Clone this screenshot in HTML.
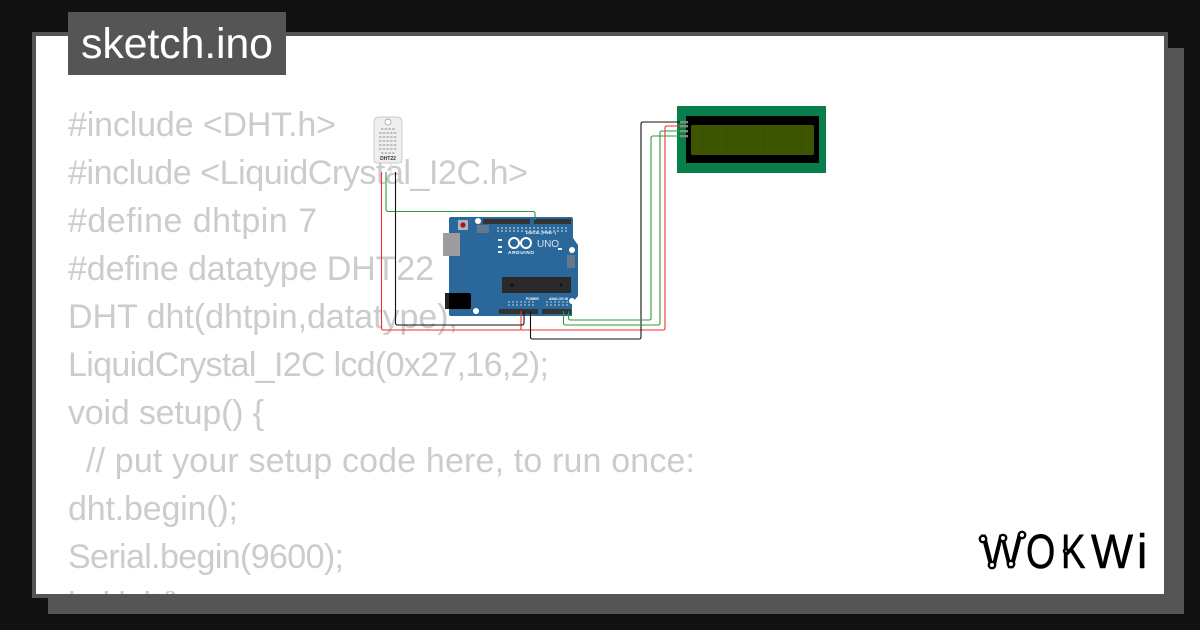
<!DOCTYPE html>
<html><head><meta charset="utf-8"><style>
html,body{margin:0;padding:0;background:#111;width:1200px;height:630px;overflow:hidden}
svg{display:block}
.c{font-family:"Liberation Sans",sans-serif;font-size:34px;fill:#ccc}
.w{fill:none;stroke-width:1.1;stroke-linejoin:round}
.l{font-family:"Liberation Sans",sans-serif;font-size:46px;fill:#000;stroke:#000;stroke-width:.5;stroke-linejoin:round}
</style></head><body>
<svg width="1200" height="630" viewBox="0 0 1200 630" xmlns="http://www.w3.org/2000/svg">
<defs><clipPath id="pg"><rect x="36" y="36" width="1128" height="558"/></clipPath></defs>
<rect width="1200" height="630" fill="#111"/>
<rect x="48" y="48" width="1136" height="566" fill="#555"/>
<rect x="32" y="32" width="1136" height="566" fill="#555"/>
<rect x="36" y="36" width="1128" height="558" fill="#fff"/>
<g class="c" clip-path="url(#pg)">
<text x="68" y="136" textLength="268">#include &lt;DHT.h&gt;</text>
<text x="68" y="184" textLength="460">#include &lt;LiquidCrystal_I2C.h&gt;</text>
<text x="68" y="232" textLength="249">#define dhtpin 7</text>
<text x="68" y="280" textLength="366">#define datatype DHT22</text>
<text x="68" y="328" textLength="390">DHT dht(dhtpin,datatype);</text>
<text x="68" y="376" textLength="481">LiquidCrystal_I2C lcd(0x27,16,2);</text>
<text x="68" y="424" textLength="196">void setup() {</text>
<text x="86" y="472" textLength="609">// put your setup code here, to run once:</text>
<text x="68" y="520" textLength="170">dht.begin();</text>
<text x="68" y="568" textLength="276">Serial.begin(9600);</text>
<text x="68" y="616" textLength="122">lcd.init();</text>
</g>
<rect x="68" y="12" width="218" height="63" fill="#555"/>
<text x="81" y="58" font-family="'Liberation Sans',sans-serif" font-size="43" fill="#fff" textLength="192">sketch.ino</text>

<!-- DHT22 -->
<path d="M374 122q0-5 5-5h18q5 0 5 5v38q0 3-3 3h-22q-3 0-3-3z" fill="#eee" stroke="#bbb" stroke-width=".7"/>
<circle cx="388" cy="122" r="3" fill="#fff" stroke="#999" stroke-width=".7"/>
<g fill="none" stroke="#b8b8b8" stroke-width="1.7" stroke-dasharray="2.5 1.2">
<path d="M381 129h14M379 133h18M379 137h18M379 141h18M379 145h18M379 149h18M381 153h14"/>
</g>
<text x="388" y="160" font-family="'Liberation Sans',sans-serif" font-size="5" font-weight="bold" text-anchor="middle" fill="#333">DHT22</text>
<g stroke="#ddd" stroke-width="1.2"><path d="M391 163v10"/></g>

<!-- Arduino board -->
<path d="M451 217H571q2 0 2 2V238L578 245V296L572 303V316H451q-2 0-2-2V219q0-2 2-2z" fill="#2a689b"/>
<rect x="443" y="233" width="17" height="23" fill="#9d9d9d"/>
<rect x="445" y="293" width="26" height="16" rx="2" fill="#000"/>
<rect x="445" y="293" width="4" height="16" fill="#222"/>
<rect x="458" y="220" width="10" height="10" fill="#a9b4bd"/>
<circle cx="463" cy="225" r="2.6" fill="#a8141c"/>
<g fill="#fff"><circle cx="478" cy="221" r="3"/><circle cx="572" cy="250" r="3"/><circle cx="572" cy="301" r="3"/><circle cx="476" cy="311" r="3"/></g>
<rect x="483" y="219" width="47" height="5" fill="#333"/>
<rect x="534" y="219" width="37" height="5" fill="#333"/>
<rect x="499" y="309" width="39" height="5" fill="#333"/>
<rect x="542" y="309" width="29" height="5" fill="#333"/>
<rect x="502" y="277" width="69" height="16" fill="#2a2a2a"/>
<circle cx="512" cy="285" r="1.5" fill="#111"/><circle cx="561" cy="285" r="1.5" fill="#111"/>
<g fill="#66798a"><rect x="477" y="225" width="12" height="8"/><rect x="567" y="255" width="8" height="13"/></g>
<path d="M497 228h70M497 231h70" stroke="#9fbbd1" stroke-width="1.4" stroke-dasharray="2 2"/>
<path d="M508 305h28M546 305h24M508 302h28M546 302h24" stroke="#9fbbd1" stroke-width="1.2" stroke-dasharray="2 2"/>
<circle cx="514" cy="243" r="5" fill="none" stroke="#fff" stroke-width="2"/>
<circle cx="526" cy="243" r="5" fill="none" stroke="#fff" stroke-width="2"/>
<text x="537" y="247" font-family="'Liberation Sans',sans-serif" font-size="10" fill="#d5e2ec" textLength="22">UNO</text>
<text x="508" y="254" font-family="'Liberation Sans',sans-serif" font-size="4.8" font-weight="bold" fill="#fff" textLength="26">ARDUINO</text>
<text x="526" y="234" font-family="'Liberation Sans',sans-serif" font-size="3.6" font-weight="bold" fill="#fff" textLength="30">DIGITAL (PWM ~)</text>
<text x="526" y="300" font-family="'Liberation Sans',sans-serif" font-size="3.4" font-weight="bold" fill="#fff">POWER</text>
<text x="549" y="300" font-family="'Liberation Sans',sans-serif" font-size="3.4" font-weight="bold" fill="#fff">ANALOG IN</text>
<g fill="#eef"><rect x="498" y="239" width="4" height="2"/><rect x="498" y="246" width="4" height="2"/><rect x="498" y="251" width="4" height="2"/><rect x="558" y="248" width="4" height="2"/></g>

<!-- LCD -->
<rect x="677" y="106" width="149" height="67" fill="#087f4a"/>
<rect x="686" y="116" width="133" height="47" fill="#000"/>
<rect x="691" y="125" width="123" height="30" rx="1.5" fill="#3d5500"/>
<path d="M703 125v30M715 125v30M727 125v30M739 125v30M752 125v30M764 125v30M776 125v30M789 125v30M801 125v30M691 140h123" stroke="#385100" stroke-width=".8"/>
<g fill="#7d8f7a"><rect x="680" y="121" width="8" height="2.400"/><rect x="680" y="125" width="8" height="2.400"/><rect x="680" y="130" width="8" height="2.400"/><rect x="680" y="135" width="8" height="2.400"/></g>

<!-- Wires -->
<path class="w" stroke="#2e9b3a" d="M386 172V209q0 2.500 2.500 2.500H533q2 0 2 2V220"/>
<path class="w" stroke="#f0302a" d="M381.500 172V328q0 2 2 2H519q2 0 2-2V311M522 330H663q2 0 2-2V128q0-2 2-2H680"/>
<path class="w" stroke="#f0302a" d="M521 330H523"/>
<path class="w" stroke="#111" d="M395.500 172V323q0 2 2 2H522q2 0 2-2V311"/>
<path class="w" stroke="#111" d="M530.500 311V337q0 2 2 2H639q2 0 2-2V124q0-2 2-2H680"/>
<path class="w" stroke="#2e9b3a" d="M563.500 311V323q0 2 2 2H658q2 0 2-2V133q0-2 2-2H680"/>
<path class="w" stroke="#2e9b3a" d="M568.500 311V318q0 2 2 2H649q2 0 2-2V138q0-2 2-2H680"/>

<!-- Logo -->
<g class="l">
<text transform="translate(981 568) scale(.95 1.04)">W</text>
<text transform="translate(1026 568) scale(.82 1.04)">O</text>
<text transform="translate(1061 568) scale(.8 1.04)">K</text>
<text transform="translate(1091 568) scale(.97 1.04)">W</text>
<text transform="translate(1137 568) scale(1 1.04)">i</text>
</g>
<g fill="#fff" stroke="#000" stroke-width="2.400">
<circle cx="983" cy="539" r="3.200"/><circle cx="1003" cy="538" r="3.200"/><circle cx="1022" cy="535" r="3.200"/><circle cx="992" cy="565" r="3.200"/><circle cx="1011" cy="564" r="3.200"/><circle cx="1066" cy="551" r="2"/>
</g>
</svg>
</body></html>
